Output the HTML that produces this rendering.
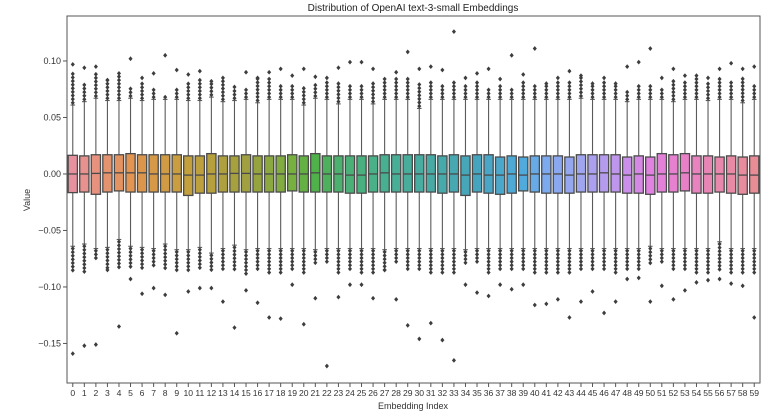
<!DOCTYPE html>
<html><head><meta charset="utf-8"><style>
html,body{margin:0;padding:0;background:#fff;}
svg{display:block;font-family:"Liberation Sans","DejaVu Sans",sans-serif;}
</style></head><body>
<svg id="chart" width="768" height="413">
<text x="413" y="11" font-size="10" text-anchor="middle" fill="#222">Distribution of OpenAI text-3-small Embeddings</text>
<text x="413" y="409" font-size="9" text-anchor="middle" fill="#333">Embedding Index</text>
<text x="0" y="0" font-size="9" text-anchor="middle" fill="#333" transform="translate(30,200) rotate(-90)">Value</text>
<g id="marks"></g>
<rect x="67" y="16" width="693" height="367" fill="none" stroke="#555" stroke-width="1"/>
</svg>
<script>
const categories = Array.from({length:60},(_,i)=>String(i));
const q1 = [-0.0165,-0.016,-0.018,-0.016,-0.015,-0.016,-0.016,-0.016,-0.016,-0.016,-0.019,-0.017,-0.017,-0.016,-0.016,-0.016,-0.016,-0.016,-0.016,-0.015,-0.016,-0.016,-0.016,-0.016,-0.017,-0.017,-0.016,-0.016,-0.016,-0.016,-0.016,-0.016,-0.017,-0.016,-0.019,-0.016,-0.017,-0.018,-0.017,-0.015,-0.016,-0.017,-0.017,-0.017,-0.016,-0.016,-0.016,-0.016,-0.017,-0.017,-0.018,-0.016,-0.016,-0.015,-0.017,-0.017,-0.016,-0.017,-0.018,-0.017];
const q3 = [0.0165,0.016,0.017,0.017,0.017,0.018,0.017,0.017,0.017,0.017,0.016,0.016,0.018,0.016,0.016,0.017,0.016,0.016,0.016,0.017,0.016,0.018,0.016,0.016,0.016,0.016,0.016,0.017,0.017,0.017,0.017,0.017,0.016,0.017,0.016,0.017,0.017,0.015,0.016,0.015,0.016,0.016,0.016,0.015,0.017,0.017,0.017,0.017,0.015,0.016,0.015,0.018,0.017,0.018,0.016,0.016,0.015,0.016,0.015,0.016];
const medians = [0,0,0.0005,0.001,0.001,0.001,0.001,0,0,0,-0.001,-0.001,0,0,0.0005,0.0005,0,0,0,0,0,0.001,0,0,-0.001,-0.001,0,0.001,0,0,0,0,0,0,-0.001,0,-0.001,-0.001,0,-0.001,0,0,0,-0.001,0,0,0.001,0,-0.001,0,-0.001,0,0,0.001,0,0,0,0,-0.001,-0.001];
const whiskerHi = [0.061,0.064,0.067,0.065,0.065,0.067,0.065,0.066,0.066,0.066,0.065,0.065,0.068,0.064,0.065,0.066,0.063,0.066,0.066,0.066,0.061,0.067,0.066,0.062,0.066,0.066,0.062,0.066,0.066,0.066,0.058,0.066,0.066,0.066,0.066,0.066,0.066,0.066,0.066,0.066,0.066,0.066,0.066,0.066,0.067,0.066,0.066,0.066,0.064,0.066,0.066,0.066,0.064,0.066,0.066,0.065,0.066,0.066,0.063,0.066];
const whiskerLo = [-0.064,-0.062,-0.066,-0.065,-0.058,-0.064,-0.065,-0.066,-0.062,-0.067,-0.067,-0.065,-0.07,-0.066,-0.063,-0.067,-0.066,-0.066,-0.066,-0.066,-0.066,-0.067,-0.066,-0.066,-0.066,-0.066,-0.066,-0.067,-0.066,-0.066,-0.066,-0.066,-0.066,-0.066,-0.067,-0.066,-0.066,-0.066,-0.066,-0.066,-0.066,-0.066,-0.066,-0.066,-0.066,-0.066,-0.066,-0.066,-0.066,-0.066,-0.064,-0.066,-0.066,-0.066,-0.066,-0.066,-0.06,-0.066,-0.066,-0.066];
const denseHi = [0.09,0.08,0.09,0.083,0.088,0.077,0.08,0.076,0.07,0.075,0.08,0.085,0.08,0.084,0.075,0.077,0.085,0.085,0.08,0.08,0.078,0.08,0.082,0.083,0.078,0.08,0.083,0.082,0.085,0.085,0.08,0.082,0.08,0.082,0.08,0.083,0.077,0.078,0.075,0.083,0.08,0.08,0.082,0.083,0.085,0.08,0.083,0.078,0.075,0.078,0.08,0.075,0.085,0.082,0.085,0.082,0.085,0.083,0.085,0.08];
const maxOut = [0.097,0.094,0.095,0.083,0.089,0.102,0.085,0.089,0.105,0.092,0.088,0.091,0.082,0.085,0.077,0.09,0.085,0.09,0.093,0.087,0.093,0.086,0.085,0.094,0.099,0.099,0.093,0.084,0.09,0.108,0.093,0.095,0.092,0.126,0.085,0.089,0.093,0.084,0.105,0.088,0.111,0.08,0.085,0.091,0.087,0.08,0.085,0.08,0.095,0.099,0.111,0.085,0.093,0.087,0.087,0.085,0.093,0.098,0.093,0.095];
const denseLo = [-0.087,-0.087,-0.075,-0.085,-0.085,-0.082,-0.083,-0.082,-0.085,-0.085,-0.085,-0.085,-0.085,-0.087,-0.087,-0.09,-0.085,-0.09,-0.09,-0.085,-0.09,-0.08,-0.08,-0.09,-0.085,-0.09,-0.09,-0.085,-0.08,-0.085,-0.085,-0.09,-0.09,-0.09,-0.08,-0.08,-0.088,-0.085,-0.085,-0.085,-0.088,-0.088,-0.088,-0.09,-0.085,-0.085,-0.085,-0.088,-0.085,-0.085,-0.08,-0.08,-0.085,-0.085,-0.09,-0.09,-0.085,-0.09,-0.09,-0.09];
const minOut = [-0.159,-0.152,-0.151,-0.085,-0.135,-0.093,-0.106,-0.101,-0.107,-0.141,-0.104,-0.101,-0.101,-0.113,-0.136,-0.103,-0.114,-0.127,-0.128,-0.098,-0.133,-0.11,-0.17,-0.109,-0.098,-0.098,-0.11,-0.085,-0.111,-0.134,-0.146,-0.132,-0.147,-0.165,-0.098,-0.105,-0.108,-0.098,-0.102,-0.098,-0.116,-0.115,-0.111,-0.127,-0.113,-0.104,-0.123,-0.113,-0.093,-0.092,-0.113,-0.099,-0.111,-0.103,-0.096,-0.094,-0.093,-0.097,-0.099,-0.127];
const yTicks = [0.10,0.05,0.00,-0.05,-0.10,-0.15];
const yTickLabels = ["0.10","0.05","0.00","\u22120.05","\u22120.10","\u22120.15"];

const L=67,R=760,T=16,B=383,yMax=0.1398,yMin=-0.185;
const yS=v=>T+(yMax-v)/(yMax-yMin)*(B-T);
const band=(R-L)/categories.length;
const xS=i=>L+band*(i+0.5);
const key=[[0,[232,145,158]],[5,[226,148,80]],[10,[196,160,60]],[15,[160,160,64]],[19,[120,176,64]],[21,[80,176,74]],[23,[76,176,110]],[27,[72,176,145]],[31,[72,170,165]],[35,[70,165,190]],[39,[80,170,220]],[41,[125,170,238]],[44,[160,165,240]],[47,[190,150,236]],[50,[225,130,225]],[53,[232,128,200]],[56,[232,136,172]],[59,[232,140,150]]];
function col(i){for(let k=0;k<key.length-1;k++){const[a,ca]=key[k],[b,cb]=key[k+1];if(i>=a&&i<=b){const t=(i-a)/(b-a);return 'rgb('+ca.map((c,j)=>Math.round(c+(cb[j]-c)*t)).join(',')+')';}}return 'rgb(232,140,150)';}
const NS='http://www.w3.org/2000/svg';
const g=document.getElementById('marks');
function mk(tag,attrs,parent){const e=document.createElementNS(NS,tag);for(const k in attrs)e.setAttribute(k,attrs[k]);(parent||g).appendChild(e);return e;}
yTicks.forEach((v,k)=>{
  const y=yS(v);
  const t=mk('line',{x1:L-4,x2:L,y1:y,y2:y,stroke:'#555'});
  
  
  const lb=mk('text',{x:L-6,y:y+3,'font-size':9,'text-anchor':'end',fill:'#333'});
  lb.textContent=yTickLabels[k];
  
  
});
function diamond(x,y,parent){const s=2.4;const d=mk('path',{d:`M${x} ${y-s}L${x+s*0.85} ${y}L${x} ${y+s}L${x-s*0.85} ${y}Z`,fill:'#3d3d3d'},parent);
  
  }
categories.forEach((c,i)=>{
  const x=xS(i),w=band*0.8;
  const grp=mk('g',{});
  
  
  mk('line',{x1:x,x2:x,y1:yS(whiskerHi[i]),y2:yS(q3[i]),stroke:'#5a5a5a','stroke-width':1.1},grp);
  mk('line',{x1:x,x2:x,y1:yS(q1[i]),y2:yS(whiskerLo[i]),stroke:'#5a5a5a','stroke-width':1.1},grp);
  mk('line',{x1:x-w/4,x2:x+w/4,y1:yS(whiskerHi[i]),y2:yS(whiskerHi[i]),stroke:'#5a5a5a','stroke-width':1.1},grp);
  mk('line',{x1:x-w/4,x2:x+w/4,y1:yS(whiskerLo[i]),y2:yS(whiskerLo[i]),stroke:'#5a5a5a','stroke-width':1.1},grp);
  mk('rect',{x:x-w/2,y:yS(q3[i]),width:w,height:yS(q1[i])-yS(q3[i]),fill:col(i),stroke:'#4a4a4a','stroke-width':1.3},grp);
  mk('line',{x1:x-w/2,x2:x+w/2,y1:yS(medians[i]),y2:yS(medians[i]),stroke:'#4a4a4a','stroke-width':1.3},grp);
  for(let v=whiskerHi[i]+0.002;v<=denseHi[i];v+=0.0032)diamond(x,yS(v),grp);
  diamond(x,yS(maxOut[i]),grp);
  for(let v=whiskerLo[i]-0.002;v>=denseLo[i];v-=0.0032)diamond(x,yS(v),grp);
  diamond(x,yS(minOut[i]),grp);
  const t=mk('line',{x1:x,x2:x,y1:B,y2:B+4,stroke:'#555'});
  
  
  const lb=mk('text',{x:x,y:B+13,'font-size':8.6,'text-anchor':'middle',fill:'#333'});
  lb.textContent=c;
  
  
});
</script>
</body></html>
